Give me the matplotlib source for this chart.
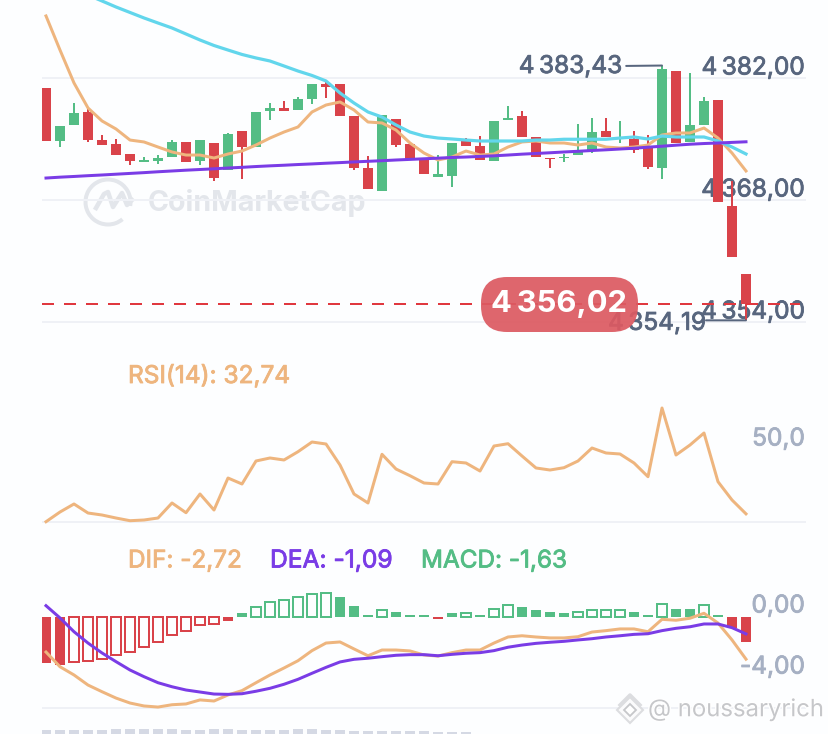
import matplotlib
matplotlib.use("Agg")
import matplotlib.pyplot as plt
import matplotlib.patheffects as pe
from matplotlib.patches import FancyBboxPatch, Arc, Polygon

plt.rcParams['font.family'] = ['Inter', 'DejaVu Sans']

# ---------- data ----------
open_ = [4380.89,4374.77,4376.57,4378.13,4374.88,4374.43,4373.28,4372.39,4372.51,4372.90,4374.69,4372.44,4374.51,4371.44,4375.95,4374.05,4378.18,4378.56,4378.33,4379.59,4381.31,4381.28,4377.67,4371.67,4369.07,4377.33,4374.39,4372.74,4370.67,4370.79,4374.77,4374.20,4372.51,4377.21,4377.64,4375.19,4372.85,4372.78,4373.16,4373.74,4375.92,4375.11,4374.97,4373.93,4371.64,4382.84,4374.66,4376.61,4379.48,4367.31,4359.51]
close = [4374.77,4376.49,4378.02,4374.88,4374.28,4373.13,4372.47,4372.59,4372.78,4374.66,4372.36,4374.88,4370.52,4375.57,4374.12,4378.06,4378.56,4378.21,4379.56,4381.28,4380.97,4377.67,4371.64,4369.30,4377.75,4374.28,4372.74,4370.95,4370.98,4374.58,4374.23,4372.59,4377.10,4377.44,4375.19,4372.97,4372.67,4372.97,4373.54,4375.77,4375.19,4375.23,4373.74,4371.75,4383.00,4374.51,4376.61,4379.33,4367.74,4361.49,4356.02]
high = [4380.89,4376.49,4379.17,4378.44,4375.49,4375.00,4373.28,4372.90,4373.13,4374.88,4374.69,4374.88,4374.51,4375.72,4375.95,4378.06,4379.17,4379.39,4379.85,4381.28,4381.58,4381.28,4377.67,4373.05,4377.75,4377.33,4374.39,4372.74,4373.16,4374.58,4375.15,4375.34,4377.10,4378.82,4378.25,4375.19,4372.85,4373.28,4376.72,4377.38,4377.38,4377.10,4375.95,4375.42,4383.43,4382.84,4382.54,4379.79,4379.48,4370.21,4359.51]
low = [4374.77,4374.12,4376.57,4374.69,4374.28,4373.13,4372.02,4372.39,4372.10,4372.90,4372.36,4371.98,4370.21,4371.44,4370.44,4374.05,4377.18,4378.21,4378.33,4379.05,4379.67,4377.67,4371.44,4369.30,4369.07,4374.12,4372.74,4370.95,4370.67,4369.53,4374.23,4372.59,4372.51,4377.21,4375.19,4372.97,4371.71,4372.39,4373.16,4373.36,4375.19,4374.51,4373.43,4371.52,4370.44,4374.51,4374.66,4376.61,4367.74,4361.49,4354.19]

ma_orange = [4389.12,4385.21,4381.43,4378.56,4377.07,4376.15,4374.88,4374.66,4374.08,4373.51,4373.16,4373.16,4372.82,4373.28,4373.62,4374.31,4375.11,4375.80,4376.38,4378.10,4378.90,4379.25,4378.33,4376.95,4376.84,4376.03,4374.54,4373.39,4372.59,4372.93,4373.62,4373.16,4373.28,4374.08,4374.66,4374.77,4374.54,4374.54,4374.31,4374.54,4374.08,4373.97,4374.08,4374.31,4375.46,4375.69,4375.69,4376.26,4375.11,4373.39,4371.33]
ma_cyan = [4393.25,4392.67,4392.10,4391.52,4390.84,4390.15,4389.52,4388.89,4388.31,4387.74,4387.05,4386.36,4385.73,4385.21,4384.70,4384.30,4383.95,4383.38,4382.80,4382.29,4381.66,4380.28,4379.13,4378.10,4377.52,4376.61,4375.80,4375.34,4375.11,4375.00,4374.88,4374.77,4374.77,4374.77,4374.77,4374.88,4374.88,4374.97,4374.97,4374.97,4374.97,4375.11,4375.23,4375.00,4375.34,4375.23,4375.23,4375.23,4374.77,4374.08,4373.28]
ma_purple = [4370.52,4370.62,4370.70,4370.79,4370.87,4370.96,4371.05,4371.14,4371.24,4371.33,4371.42,4371.50,4371.58,4371.67,4371.75,4371.84,4371.92,4371.99,4372.07,4372.14,4372.22,4372.29,4372.37,4372.44,4372.51,4372.59,4372.66,4372.73,4372.80,4372.88,4372.93,4373.00,4373.07,4373.16,4373.26,4373.34,4373.42,4373.51,4373.59,4373.68,4373.76,4373.85,4373.94,4374.06,4374.17,4374.29,4374.40,4374.48,4374.54,4374.61,4374.68]

rsi = [30.62,33.24,35.41,32.97,32.43,31.62,30.89,31.08,31.62,35.68,33.05,38.11,33.78,42.43,40.81,47.03,47.84,47.30,49.54,52.16,51.62,45.95,38.11,35.68,48.84,44.86,43.05,41.08,40.81,46.84,46.49,44.32,51.08,51.70,48.38,45.14,44.59,45.22,47.03,50.54,49.19,48.92,46.49,42.78,61.35,48.65,51.35,54.59,41.43,36.49,32.74]

dif = [-2.26,-3.21,-3.74,-4.39,-4.82,-5.23,-5.55,-5.74,-5.81,-5.66,-5.61,-5.35,-5.42,-5.03,-4.75,-4.24,-3.74,-3.29,-2.82,-2.17,-1.68,-1.61,-2.06,-2.50,-2.13,-2.13,-2.19,-2.45,-2.52,-2.30,-2.13,-2.13,-1.68,-1.29,-1.21,-1.29,-1.35,-1.35,-1.27,-0.97,-0.88,-0.77,-0.77,-0.95,-0.15,-0.21,-0.08,0.24,-0.39,-1.48,-2.72]
dea = [0.73,-0.06,-0.95,-1.68,-2.32,-2.88,-3.42,-3.85,-4.24,-4.50,-4.71,-4.84,-4.97,-4.99,-4.95,-4.79,-4.60,-4.34,-4.02,-3.63,-3.25,-2.90,-2.73,-2.66,-2.56,-2.47,-2.43,-2.43,-2.50,-2.41,-2.34,-2.30,-2.17,-1.95,-1.81,-1.70,-1.63,-1.57,-1.48,-1.40,-1.29,-1.21,-1.12,-1.08,-0.88,-0.73,-0.63,-0.45,-0.45,-0.69,-1.09]
macd = [-2.95,-3.08,-2.92,-2.84,-2.69,-2.47,-2.28,-1.95,-1.63,-1.16,-0.92,-0.52,-0.45,-0.24,0.28,0.63,0.95,1.12,1.31,1.48,1.57,1.27,0.71,0.15,0.47,0.32,0.15,0.15,-0.15,0.24,0.28,0.15,0.54,0.77,0.66,0.45,0.30,0.24,0.34,0.45,0.45,0.45,0.30,0.15,0.82,0.52,0.52,0.77,0.15,-0.73,-1.63]
macd_hollow = [2,3,4,5,6,7,8,9,10,11,12,15,16,17,18,19,20,24,30,32,33,38,39,40,41,44,47]

volume = [3.8,3.8,3.8,3.8,3.8,5.2,5.2,5.2,5,5,4.5,4.5,5.2,5.2,4.5,4.5,4.5,4.5,4.8,4.8,3.8,3.8,3.5,3.5,3,3,3,3,2.5,2.5,2.5]

price_ticks = [4382, 4368, 4354]
price_tick_labels = ['4\u2009382,00', '4\u2009368,00', '4\u2009354,00']
last_price = 4356.02
last_price_label = '4\u2009356,02'
high_label = '4\u2009383,43'
low_label = '4\u2009354,19'
rsi_tick = 50.0
rsi_tick_label = '50,0'
macd_ticks = [0.0, -3.94]
macd_tick_labels = ['0,00', '-4,00']

# ---------- style ----------
W, H = 829, 734
BG = '#fdfeff'
RED = '#d9434a'
GREEN = '#54bd85'
ORANGE = '#eeb57e'
CYAN = '#62d6ec'
PURPLE = '#7a3ce6'
GRID = '#eff1f6'
DARK = '#58667e'
PALE = '#a6b0c3'
px = 72 / 100  # points per pixel
LABEL = 17.6

def medium(color, w=0.6):
    return [pe.withStroke(linewidth=w, foreground=color)]

fig = plt.figure(figsize=(W / 100, H / 100), dpi=100, facecolor=BG)

def panel(top, bottom):
    l, r = 42, 806
    ax = fig.add_axes([l / W, 1 - bottom / H, (r - l) / W, (bottom - top) / H])
    ax.set_xlim((l - 46) / 14, (r - 46) / 14)
    ax.patch.set_alpha(0)
    ax.axis('off')
    return ax

# background layer: watermarks
bg = fig.add_axes([0, 0, 1, 1], zorder=0)
bg.set_xlim(0, W); bg.set_ylim(H, 0); bg.axis('off')
WM = '#e3e6eb'
bg.add_patch(Arc((108, 202), 45, 45, theta1=50, theta2=370, color=WM, lw=4 * px))
bg.plot([96, 104, 108, 113, 122, 127, 132], [208, 194, 192, 207, 193, 205, 200], color=WM, lw=4.5 * px, solid_joinstyle='round')
bg.text(148, 203, 'CoinMarketCap', fontsize=20.6, fontweight='bold', color=WM, va='center', ha='left')

x = list(range(len(close)))

# ---------- price panel ----------
ax = panel(0, 330)
ax.set_zorder(1)
ax.set_ylim(4382 - (330 - 78) / 8.714, 4382 + 78 / 8.714)
for t, lab in zip(price_ticks, price_tick_labels):
    ax.axhline(t, color=GRID, lw=2 * px, zorder=0.5)
    ax.annotate(lab, xy=(1, t), xycoords=ax.get_yaxis_transform(), xytext=(-1, 10),
                textcoords='offset pixels', ha='right', va='center',
                fontsize=LABEL, color=DARK, zorder=1, path_effects=medium(DARK))
cols = [GREEN if c >= o else RED for o, c in zip(open_, close)]
ax.vlines(x, low, high, colors=cols, lw=2 * px, zorder=2)
ax.bar(x, [abs(c - o) for o, c in zip(open_, close)], bottom=[min(o, c) for o, c in zip(open_, close)],
       width=0.71, color=cols, zorder=2.5)
ax.plot(x, ma_orange, color=ORANGE, lw=3 * px, zorder=3)
ax.plot(x, ma_cyan, color=CYAN, lw=3.2 * px, zorder=3.1)
ax.plot(x, ma_purple, color=PURPLE, lw=3 * px, zorder=3.2)
ax.axhline(last_price, xmax=(800 - 42) / (806 - 42), color='#e0383f', lw=2 * px, dashes=(6, 5), zorder=3.5)
# high / low callouts
ax.annotate(high_label, xy=(44, high[44]), xytext=(-40, -1), textcoords='offset pixels', ha='right', va='center',
            fontsize=LABEL, color=DARK, zorder=6, path_effects=medium(DARK),
            arrowprops=dict(arrowstyle='-', color=DARK, lw=2 * px, shrinkA=1, shrinkB=0))
ax.annotate(low_label, xy=(50, low[50]), xytext=(-40, -3), textcoords='offset pixels', ha='right', va='center',
            fontsize=LABEL, color=DARK, zorder=6, path_effects=medium(DARK))
ax.annotate('', xy=(50, low[50]), xytext=(-40, 0), textcoords='offset pixels',
            arrowprops=dict(arrowstyle='-', color=DARK, lw=2 * px, shrinkA=0, shrinkB=0), zorder=6)

# ---------- RSI panel ----------
ar = panel(395, 530)
ar.set_zorder(1)
ar.set_ylim(50 - (530 - 450) / 3.7, 50 + (450 - 395) / 3.7)
ar.axhline(50 - (522 - 450) / 3.7, color=GRID, lw=2 * px, zorder=0.5)
ar.plot(x, rsi, color=ORANGE, lw=3 * px, zorder=2)
ar.annotate(rsi_tick_label, xy=(1, rsi_tick), xycoords=ar.get_yaxis_transform(), xytext=(-1, 11),
            textcoords='offset pixels', ha='right', va='center', fontsize=LABEL, color=PALE, path_effects=medium(PALE))

# ---------- MACD panel ----------
am = panel(585, 715)
am.set_zorder(1)
am.set_ylim(-(715 - 617) / 15.5, (617 - 585) / 15.5)
am.axhline(-(708 - 617) / 15.5, color=GRID, lw=2 * px, zorder=0.5)
for i, v in enumerate(macd):
    c = GREEN if v >= 0 else RED
    if i in macd_hollow:
        am.bar(i, v, width=0.66, facecolor='none', edgecolor=c, lw=2 * px, zorder=2)
    else:
        am.bar(i, v, width=0.74, color=c, zorder=2)
am.plot(x, dif, color=ORANGE, lw=3 * px, zorder=3)
am.plot(x, dea, color=PURPLE, lw=3 * px, zorder=3.1)
for t, lab in zip(macd_ticks, macd_tick_labels):
    am.annotate(lab, xy=(1, t), xycoords=am.get_yaxis_transform(), xytext=(-1, 11),
                textcoords='offset pixels', ha='right', va='center', fontsize=LABEL, color=PALE, path_effects=medium(PALE))

# ---------- volume panel ----------
av = panel(724, 734)
av.set_ylim(0, 10)
av.bar(range(len(volume)), volume, width=0.74, color='#d5d9e4', zorder=2)

# ---------- overlay: legends, price pill, watermark ----------
top = fig.add_axes([0, 0, 1, 1], zorder=5)
top.set_xlim(0, W); top.set_ylim(H, 0); top.axis('off'); top.patch.set_alpha(0)
top.add_patch(FancyBboxPatch((481, 277), 157, 55, boxstyle='round,pad=0,rounding_size=26',
                             fc='#dc5a62', ec='none', alpha=0.93, zorder=1))
top.text(559, 304, last_price_label, fontsize=22.3, color='white', fontweight='bold', ha='center', va='center', zorder=2)
top.text(128, 376, 'RSI(14): 32,74', fontsize=17.6, color=ORANGE, va='center', path_effects=medium(ORANGE))
top.text(128, 561, 'DIF: -2,72', fontsize=17.5, color=ORANGE, va='center', path_effects=medium(ORANGE))
top.text(270, 561, 'DEA: -1,09', fontsize=17.7, color=PURPLE, va='center', path_effects=medium(PURPLE))
top.text(421, 561, 'MACD: -1,63', fontsize=17.5, color=GREEN, va='center', path_effects=medium(GREEN))
WM2 = '#c6c7ca'
top.add_patch(Polygon([(617, 710), (630, 697), (643, 710), (630, 723)], closed=True, fc='#fbfbfc', ec='#dcdde0', lw=1.5))
top.add_patch(Polygon([(624, 710), (630, 704), (636, 710), (630, 716)], closed=True, fc='white', ec=WM2, lw=1.3))
top.plot([620, 630, 640], [705, 695, 705], color='#dcdde0', lw=2.5)
top.text(648, 710, '@ noussaryrich', fontsize=17.2, color=WM2, va='center', ha='left',
         path_effects=[pe.withStroke(linewidth=2, foreground='white')])

fig.savefig('out.png', dpi=100, facecolor=BG)
